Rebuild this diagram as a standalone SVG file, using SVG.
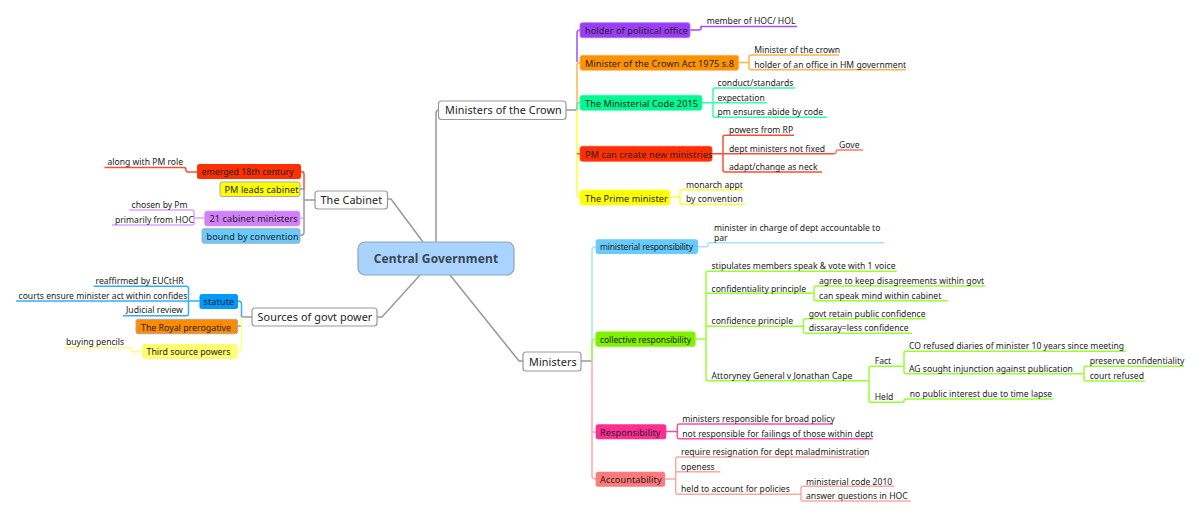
<svg xmlns="http://www.w3.org/2000/svg" width="1200" height="517" viewBox="0 0 1200 517">
<style>
text{font-family:"Noto Sans",sans-serif;fill:#222;font-size:8.600px}
.l2 text{font-size:9.100px;letter-spacing:.1px}
.l2 text.t{font-size:8.800px;letter-spacing:0}
.l2 text.s{font-size:8.500px;letter-spacing:0}
.l1 text{font-size:10.800px;letter-spacing:.1px}
.c path{fill:none;stroke-width:1.500}
.l1 rect{fill:#fff;stroke:#999;stroke-width:1.200}
.g{stroke:#999}.pu{stroke:#a64dff}.or{stroke:#ffb24d}.gn{stroke:#33ffaa}.rd{stroke:#ff4d33}.ye{stroke:#ffff33}
.bl{stroke:#a6e3ff}.li{stroke:#99ff33}.pk{stroke:#ff4da6}.sa{stroke:#ffa6a6}.lp{stroke:#e0a6ff}.az{stroke:#33adff}.ly{stroke:#ffff80}
</style>
<g id="connectors" class="c">
<path class="g" d="M423 242L391 199H387M436 242V113Q436 110 439 110M420 275L382 317H377M450 275L519 361H523"/>
<path class="g" d="M566 110H577M581 361H592M315 200H304M252 317H241"/>
<path class="pu" d="M577 62V33Q577 30 580 30H580M690 30H699Q701 30 701 28.500V26.500H797"/>
<path class="or" d="M577 110V65Q577 62.500 580 62.500M739 62.500H749M839 55H751Q749 55 749 57V67.700Q749 69.700 751 69.700H906"/>
<path class="gn" d="M577 110V105Q577 102.500 580 102.500M702 102.700H766.700M795 88H715Q713 88 713 90V115.300Q713 117.300 715 117.300H827"/>
<path class="ye" d="M577 110V194Q577 197.500 580 197.500M670 197H680M744 189.700H682Q680 189.700 680 191.700V202.300Q680 204.300 682 204.300H745"/>
<path class="rd" d="M577 153.700H580M712 153.700H834M794 135.300H725Q723 135.300 723 137.300V170Q723 172 725 172H822"/>
<path stroke="#ff7a66" d="M834 153.700Q836 153.700 836 151.700Q836 150 838 150H863"/>
<path class="bl" d="M592 361V250Q592 246.700 596 246.700M698 246.700H706Q708 246.700 708 244.700Q708 242.700 710 242.700H884"/>
<path class="li" d="M592 361V342Q592 339 596 339M695 339H706M896.700 271.300H708Q706 271.300 706 273.300V378.700Q706 380.700 708 380.700H869M706 293.300H814M706 326.300H803M985 286H816Q814 286 814 288V298.700Q814 300.700 816 300.700H948M926 318.700H805.500Q803.500 318.700 803.500 320.700V331.300Q803.500 333.300 805.500 333.300H912M904 366.300H871Q869 366.300 869 368.300V400.300Q869 402.300 871 402.300H902Q904 402.300 904 400.700Q904 399 906 399H1053M1125.700 351.300H906Q904 351.300 904 353.300V371.700Q904 373.700 906 373.700H1084M1184 366.300H1086Q1084 366.300 1084 368.300V379Q1084 381 1086 381H1144.700"/>
<path class="sa" d="M592 361V476Q592 479 596 479M665 479H675.700M865 457H677.700Q675.700 457 675.700 459V492.300Q675.700 494.300 677.700 494.300H801M675.700 471.700H720.300M894 486.300H803Q801 486.300 801 488.300V499Q801 501 803 501H910.700"/>
<path class="sa" d="M592 432H596"/>
<path class="pk" d="M666 431.500H677.300M833 424H679.300Q677.300 424 677.300 426V436.700Q677.300 438.700 679.300 438.700H872.700"/>
<path class="rd" d="M304 190V174Q304 171.500 301 171.500H301M197 172H188Q186 172 186 170Q186 167.500 184 167.500H104.500"/>
<path class="g" d="M304 189V232Q304 235.500 300 235.500M304 189H300"/>
<path class="lp" d="M304 218H300M204.500 218H194M129 210H192Q194 210 194 212V223Q194 225 192 225H112"/>
<path class="az" d="M241.500 317V304Q241.500 301 238 301M199.500 301H16M93.500 286.300H186.500Q188.500 286.300 188.500 288.300V313.700Q188.500 315.700 186.500 315.700H123"/>
<path class="g" d="M241.500 326H237.500"/>
<path class="ly" d="M241.500 317V349Q241.500 352 237.500 352M142 351.700H133Q131 351.700 131 349.700Q131 347.700 129 347.700H64"/>
</g>
<g id="central"><rect x="358" y="242" width="156" height="33" rx="7" fill="#a8d4ff" stroke="#8fa3b5" stroke-width="1.200"/><text x="436" y="263" text-anchor="middle" style="font-size:12px;font-weight:bold;fill:#3c4650;letter-spacing:.15px">Central Government</text></g>
<g class="l1" id="n-crown"><rect x="438.500" y="101" width="127.500" height="18.500" rx="3"/><text x="445" y="114">Ministers of the Crown</text></g>
<g class="l1" id="n-cabinet"><rect x="315" y="191" width="72.500" height="18" rx="3"/><text x="320.500" y="204">The Cabinet</text></g>
<g class="l1" id="n-sources"><rect x="252" y="308" width="125" height="18" rx="3"/><text x="257.500" y="321">Sources of govt power</text></g>
<g class="l1" id="n-ministers"><rect x="523" y="352" width="58" height="19" rx="3"/><text x="529" y="365.500">Ministers</text></g>
<g class="l2">
<g id="n-holder"><rect x="580" y="22.700" width="110" height="15" rx="2.500" fill="#9b3df5" stroke="#b070ff" stroke-width=".8"/><text x="585" y="34">holder of political office</text></g>
<g id="n-act"><rect x="580" y="55.300" width="158.700" height="15" rx="2.500" fill="#ff9200" stroke="#ffb24d" stroke-width=".8"/><text x="585" y="66.500">Minister of the Crown Act 1975 s.8</text></g>
<g id="n-code"><rect x="580" y="95.300" width="122" height="15" rx="2.500" fill="#00f990" stroke="#33ffaa" stroke-width=".8"/><text x="585" y="106.500">The Ministerial Code 2015</text></g>
<g id="n-pmcreate"><rect x="580" y="146.300" width="132" height="15" rx="2.500" fill="#ff2f00" stroke="#ff4d33" stroke-width=".8"/><text x="585" y="157.500">PM can create new ministries</text></g>
<g id="n-prime"><rect x="580" y="190" width="89.700" height="15" rx="2.500" fill="#ffff00" stroke="#ffff33" stroke-width=".8"/><text x="585" y="201.500">The Prime minister</text></g>
<g id="n-minresp"><rect x="595.700" y="239.300" width="102.300" height="14.700" rx="2.500" fill="#66ccff"/><text class="s" x="600" y="250" textLength="93">ministerial responsibility</text></g>
<g id="n-collresp"><rect x="595.700" y="331.700" width="99.600" height="15" rx="2.500" fill="#80f000" stroke="#99ff33" stroke-width=".8"/><text class="s" x="600" y="342.500" textLength="91">collective responsibility</text></g>
<g id="n-resp"><rect x="595.700" y="424.300" width="70.600" height="15" rx="2.500" fill="#ff2e93"/><text x="600" y="435.500">Responsibility</text></g>
<g id="n-acc"><rect x="595.700" y="471.700" width="69.300" height="15" rx="2.500" fill="#ff7a7a"/><text x="600" y="483">Accountability</text></g>
<g id="n-emerged"><rect x="197" y="164" width="104" height="15" rx="2.500" fill="#ff2f00"/><text class="t" x="201.500" y="175">emerged 18th century</text></g>
<g id="n-leads"><rect x="220" y="182" width="80" height="14.500" rx="2" fill="#ffff00" stroke="#aaa"/><text x="224.500" y="192.500">PM leads cabinet</text></g>
<g id="n-21"><rect x="204.500" y="211" width="95.500" height="15" rx="2.500" fill="#d080f8" stroke="#e0a6ff" stroke-width=".8"/><text x="209.500" y="221.500">21 cabinet ministers</text></g>
<g id="n-bound"><rect x="202" y="228.700" width="98" height="14.500" rx="2" fill="#66ccff" stroke="#aaa"/><text x="206.500" y="239.500">bound by convention</text></g>
<g id="n-statute"><rect x="199.500" y="294" width="38.500" height="15" rx="2.500" fill="#0099ff"/><text x="203.500" y="305">statute</text></g>
<g id="n-royal"><rect x="136" y="319.300" width="101.500" height="14.500" rx="2" fill="#ff8c00" stroke="#aaa"/><text class="t" x="141" y="330.500">The Royal prerogative</text></g>
<g id="n-third"><rect x="142" y="344" width="95.500" height="15" rx="2.500" fill="#ffff70"/><text class="t" x="146.500" y="355">Third source powers</text></g>
</g>
<g id="leaves">
<text x="706.700" y="24">member of HOC/ HOL</text>
<text x="754.300" y="53">Minister of the crown</text>
<text x="754.300" y="67.500">holder of an office in HM government</text>
<text x="717.500" y="86">conduct/standards</text>
<text x="717.500" y="100.500">expectation</text>
<text x="717.500" y="115">pm ensures abide by code</text>
<text x="729" y="133">powers from RP</text>
<text x="729" y="151.500">dept ministers not fixed</text>
<text x="729" y="170">adapt/change as neck</text>
<text x="839" y="148">Gove</text>
<text x="686" y="187.500">monarch appt</text>
<text x="686" y="202">by convention</text>
<text x="714" y="230.500">minister in charge of dept accountable to</text>
<text x="714" y="241">par</text>
<text x="711.500" y="269">stipulates members speak &amp; vote with 1 voice</text>
<text x="711.500" y="291.500">confidentiality principle</text>
<text x="711.500" y="324">confidence principle</text>
<text x="711.500" y="378.500">Attoryney General v Jonathan Cape</text>
<text x="819" y="284">agree to keep disagreements within govt</text>
<text x="819" y="298.500">can speak mind within cabinet</text>
<text x="808.700" y="316.500">govt retain public confidence</text>
<text x="808.700" y="331">dissaray=less confidence</text>
<text x="874.700" y="364">Fact</text>
<text x="874.700" y="400">Held</text>
<text x="909" y="349">CO refused diaries of minister 10 years since meeting</text>
<text x="909" y="371.500">AG sought injunction against publication</text>
<text x="909.700" y="396.500">no public interest due to time lapse</text>
<text x="1089.700" y="364">preserve confidentiality</text>
<text x="1089.700" y="378.500">court refused</text>
<text x="682.300" y="422">ministers responsible for broad policy</text>
<text x="682.300" y="436.500">not responsible for failings of those within dept</text>
<text x="681" y="455">require resignation for dept maladministration</text>
<text x="681" y="469.500">openess</text>
<text x="681" y="491.500">held to account for policies</text>
<text x="806" y="484.500">ministerial code 2010</text>
<text x="806" y="498.500">answer questions in HOC</text>
<text x="107.500" y="165">along with PM role</text>
<text x="131.500" y="208">chosen by Pm</text>
<text x="115" y="222.500">primarily from HOC</text>
<text x="95.500" y="284">reaffirmed by EUCtHR</text>
<text x="18.500" y="298.500">courts ensure minister act within confides</text>
<text x="126" y="313">Judicial review</text>
<text x="66" y="345">buying pencils</text>
</g>
</svg>
